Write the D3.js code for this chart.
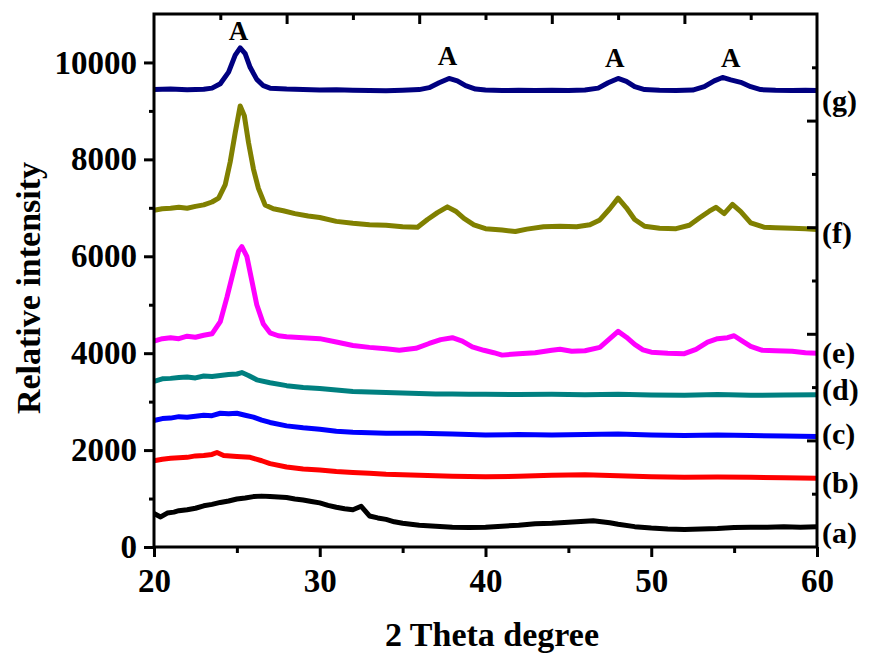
<!DOCTYPE html>
<html>
<head>
<meta charset="utf-8">
<script src="https://cdn.jsdelivr.net/npm/d3@7"></script>
<style>
  body { margin: 0; background: #fff; }
  svg { display: block; font-family: "Liberation Serif", "Times New Roman", serif; font-weight: bold; }
</style>
</head>
<body>
<svg width="881" height="659"></svg>
<script>
// data: [2theta, intensity]
var seriesA = [[20,690],[20.4,620],[20.8,700],[21.2,720],[21.5,750],[22,770],[22.5,800],[23,850],[23.5,880],[24,920],[24.5,950],[25,990],[25.5,1010],[26,1040],[26.5,1050],[27,1040],[27.5,1030],[28,1020],[28.5,990],[29,970],[29.5,940],[30,910],[30.5,860],[31,820],[31.5,790],[32,770],[32.5,840],[33,640],[33.5,600],[34,570],[34.5,520],[35,490],[35.5,470],[36,450],[37,430],[38,410],[39,400],[40,410],[41,430],[42,450],[43,480],[44,490],[45,510],[46,530],[46.5,540],[47,520],[47.5,500],[48,470],[49,420],[50,390],[51,370],[52,360],[53,370],[54,380],[55,400],[56,410],[57,410],[58,420],[59,410],[60,420]];
var seriesB = [[20,1780],[20.5,1810],[21,1830],[21.5,1840],[22,1850],[22.5,1880],[23,1890],[23.5,1910],[23.8,1950],[24.2,1890],[25,1870],[25.8,1850],[26.5,1780],[27,1720],[28,1650],[29,1610],[30,1590],[31,1560],[32,1540],[33,1520],[34,1500],[35,1490],[36,1480],[38,1460],[40,1450],[42,1460],[44,1480],[46,1490],[48,1470],[50,1450],[52,1440],[54,1445],[56,1440],[58,1430],[60,1420]];
var seriesC = [[20,2610],[20.5,2650],[21,2660],[21.5,2690],[22,2680],[22.5,2700],[23,2720],[23.5,2710],[24,2760],[24.5,2750],[25,2760],[25.5,2720],[26,2680],[26.5,2620],[27,2570],[28,2500],[29,2460],[30,2430],[31,2390],[32,2370],[33,2360],[34,2350],[36,2345],[38,2330],[40,2310],[42,2320],[44,2310],[46,2320],[48,2330],[50,2310],[52,2300],[54,2310],[56,2300],[58,2290],[60,2280]];
var seriesD = [[20,3420],[20.5,3470],[21,3480],[21.5,3500],[22,3510],[22.5,3490],[23,3530],[23.5,3520],[24,3540],[24.5,3560],[25,3570],[25.3,3600],[25.7,3540],[26.2,3450],[27,3390],[28,3330],[29,3290],[30,3270],[31,3240],[32,3210],[33,3200],[34,3190],[35,3180],[36,3170],[37,3160],[38,3160],[39,3150],[40,3150],[42,3145],[44,3150],[46,3140],[48,3150],[50,3135],[52,3130],[54,3145],[56,3130],[58,3135],[60,3140]];
var seriesE = [[20,4250],[20.5,4300],[21,4320],[21.5,4300],[22,4350],[22.5,4330],[23,4370],[23.5,4400],[24,4650],[24.4,5150],[24.8,5700],[25.1,6100],[25.3,6200],[25.6,6000],[25.9,5500],[26.2,5000],[26.6,4600],[27,4420],[27.5,4360],[28,4340],[29,4320],[30,4300],[31,4230],[32,4160],[33,4120],[34,4090],[34.8,4060],[35.8,4100],[36.6,4200],[37.3,4280],[38,4320],[38.6,4250],[39.2,4130],[39.9,4060],[40.5,4010],[41,3960],[42,3990],[43,4010],[44,4060],[44.5,4080],[45.2,4040],[46,4050],[46.9,4120],[47.5,4300],[48,4450],[48.5,4330],[49,4180],[49.5,4070],[50,4020],[51,4000],[52,3990],[52.7,4080],[53.4,4230],[54,4300],[54.6,4320],[55,4360],[55.5,4250],[56,4140],[56.7,4060],[57.5,4050],[58.5,4040],[59.3,4010],[60,4000]];
var seriesF = [[20,6950],[20.5,6980],[21,6990],[21.5,7010],[22,6990],[22.5,7030],[23,7060],[23.5,7120],[23.9,7200],[24.3,7480],[24.6,7950],[24.9,8550],[25.2,9100],[25.45,8900],[25.7,8350],[26,7800],[26.3,7400],[26.7,7060],[27.2,6980],[27.8,6940],[28.5,6880],[29.3,6830],[30,6800],[31,6720],[32,6680],[33,6650],[34,6640],[35,6610],[35.9,6600],[36.5,6760],[37.1,6900],[37.7,7020],[38.2,6930],[38.7,6780],[39.3,6650],[40,6570],[41,6540],[41.8,6510],[42.5,6560],[43.5,6610],[44.5,6620],[45.5,6610],[46.3,6650],[46.9,6750],[47.5,6980],[48,7200],[48.5,7000],[49,6760],[49.6,6620],[50.5,6580],[51.5,6570],[52.3,6640],[52.9,6790],[53.5,6930],[53.9,7010],[54.4,6880],[54.9,7070],[55.4,6920],[56,6690],[56.8,6600],[57.5,6590],[58.5,6580],[59.3,6570],[60,6550]];
var seriesG = [[20,9440],[21,9450],[22,9435],[23,9445],[23.5,9470],[24,9560],[24.5,9800],[24.9,10150],[25.2,10300],[25.5,10180],[25.8,9900],[26.2,9650],[26.6,9520],[27,9470],[28,9450],[29,9440],[30,9430],[31,9435],[32,9425],[33,9420],[34,9415],[35,9425],[36,9440],[36.6,9480],[37.2,9580],[37.8,9670],[38.3,9620],[38.8,9520],[39.4,9450],[40,9430],[41,9420],[42,9425],[43,9420],[44,9425],[45,9420],[46,9430],[46.8,9470],[47.4,9580],[48,9670],[48.5,9610],[49,9500],[49.6,9440],[50.5,9425],[51.5,9420],[52.5,9430],[53.2,9500],[53.8,9620],[54.3,9690],[54.8,9640],[55.4,9590],[56,9500],[56.6,9440],[57.5,9425],[58.5,9420],[59.3,9425],[60,9420]];

var seriesList = [seriesA, seriesB, seriesC, seriesD, seriesE, seriesF, seriesG];
var seriesNames = ["(a)", "(b)", "(c)", "(d)", "(e)", "(f)", "(g)"];
var seriesColors = ["#000000", "#ff0000", "#0000ff", "#008080", "#ff00ff", "#808000", "#000080"];
var nameY = [290, 1340, 2350, 3260, 4020, 6500, 9220];

// anatase "A" marks: [2theta, intensity]
var peakMarks = [[25.1, 10660], [37.7, 10140], [47.8, 10100], [54.8, 10100]];

var xTicks = [20, 30, 40, 50, 60];
var xMinor = [25, 35, 45, 55];
var yTicks = [0, 2000, 4000, 6000, 8000, 10000];
var yMinor = [1000, 3000, 5000, 7000, 9000];

var svg = d3.select("svg");

var xScale = d3.scaleLinear().domain([20, 60]).range([154, 817]);
var yScale = d3.scaleLinear().domain([0, 11000]).range([547, 14]);
// top / right frame ticks use their own 10-step scales
var topScale = d3.scaleLinear().domain([0, 10]).range([154, 817]);
var rightScale = d3.scaleLinear().domain([0, 10]).range([547, 14]);

var tickFont = 33;
var titleFont = 34;

// curves
var line = d3.line()
    .x(d => xScale(d[0]))
    .y(d => yScale(d[1]));

svg.append("g")
    .selectAll("path")
    .data(seriesList)
    .join("path")
    .attr("d", line)
    .attr("fill", "none")
    .attr("stroke", (d, i) => seriesColors[i])
    .attr("stroke-width", 5)
    .attr("stroke-linejoin", "round");

function styleAxis(g) {
    g.select(".domain").remove();
    g.selectAll("line").attr("stroke", "#000").attr("stroke-width", 3);
    g.selectAll("text")
        .attr("fill", "#000")
        .attr("font-size", tickFont)
        .attr("font-weight", "bold")
        .attr("font-family", "Liberation Serif, Times New Roman, serif");
}

// left axis
svg.append("g")
    .attr("transform", "translate(154,0)")
    .call(d3.axisLeft(yScale).tickValues(yTicks).tickSize(10).tickPadding(7).tickFormat(d3.format("d")))
    .call(styleAxis);
svg.append("g")
    .attr("transform", "translate(154,0)")
    .call(d3.axisLeft(yScale).tickValues(yMinor).tickSize(5).tickFormat(""))
    .call(styleAxis);

// bottom axis
svg.append("g")
    .attr("transform", "translate(0,547)")
    .call(d3.axisBottom(xScale).tickValues(xTicks).tickSize(10).tickPadding(12))
    .call(styleAxis);
svg.append("g")
    .attr("transform", "translate(0,547)")
    .call(d3.axisBottom(xScale).tickValues(xMinor).tickSize(6).tickFormat(""))
    .call(styleAxis);

// top axis, ticks inward
svg.append("g")
    .attr("transform", "translate(0,14)")
    .call(d3.axisTop(topScale).tickValues([2, 4, 6, 8]).tickSize(-10).tickFormat(""))
    .call(styleAxis);
svg.append("g")
    .attr("transform", "translate(0,14)")
    .call(d3.axisTop(topScale).tickValues([1, 3, 5, 7, 9]).tickSize(-6).tickFormat(""))
    .call(styleAxis);

// right axis, ticks inward
svg.append("g")
    .attr("transform", "translate(817,0)")
    .call(d3.axisRight(rightScale).tickValues([2, 4, 6, 8]).tickSize(-10).tickFormat(""))
    .call(styleAxis);
svg.append("g")
    .attr("transform", "translate(817,0)")
    .call(d3.axisRight(rightScale).tickValues([1, 3, 5, 7, 9]).tickSize(-5).tickFormat(""))
    .call(styleAxis);

// frame
svg.append("rect")
    .attr("x", xScale(20))
    .attr("y", yScale(11000))
    .attr("width", xScale(60) - xScale(20))
    .attr("height", yScale(0) - yScale(11000))
    .attr("fill", "none")
    .attr("stroke", "#000")
    .attr("stroke-width", 3);

// series names on the right
svg.append("g")
    .selectAll("text")
    .data(seriesNames)
    .join("text")
    .attr("x", xScale(60) + 5)
    .attr("y", (d, i) => yScale(nameY[i]))
    .attr("dy", "0.35em")
    .attr("font-size", 30)
    .text(d => d);

// A marks
svg.append("g")
    .selectAll("text")
    .data(peakMarks)
    .join("text")
    .attr("x", d => xScale(d[0]))
    .attr("y", d => yScale(d[1]))
    .attr("dy", "0.35em")
    .attr("text-anchor", "middle")
    .attr("font-size", 27)
    .text("A");

// axis titles
svg.append("text")
    .attr("x", 492)
    .attr("y", 646)
    .attr("text-anchor", "middle")
    .attr("font-size", titleFont)
    .text("2 Theta degree");

svg.append("text")
    .attr("transform", "translate(40,288) rotate(-90)")
    .attr("text-anchor", "middle")
    .attr("font-size", titleFont)
    .text("Relative intensity");
</script>
</body>
</html>
